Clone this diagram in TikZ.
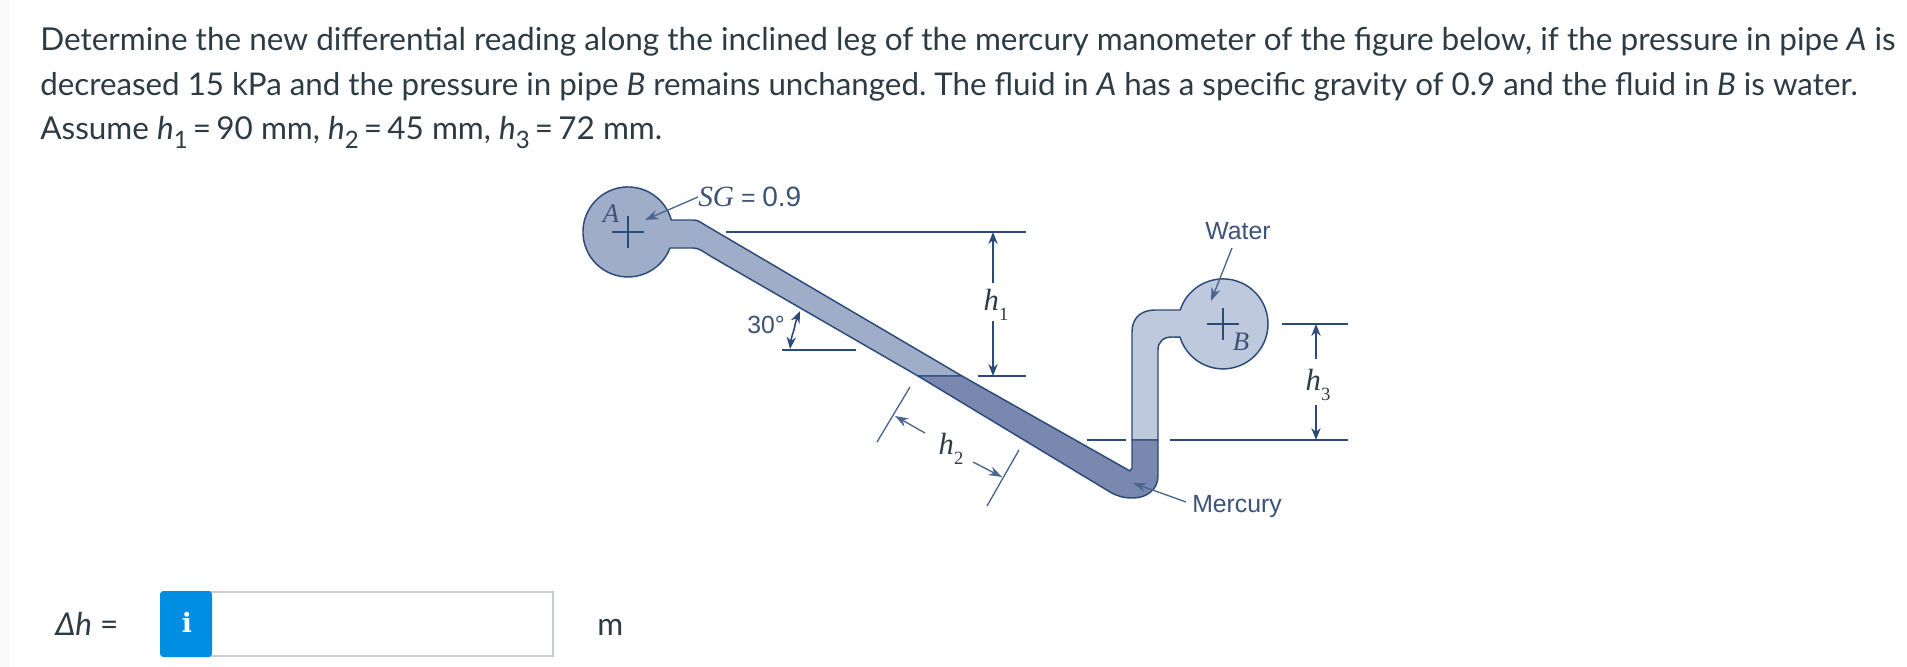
\documentclass[tikz,border=0pt]{standalone}
\usepackage{fontspec}
\usepackage{graphicx}
\setmainfont{Lato}
\newfontfamily\figsans{Liberation Sans}
\newfontfamily\figserif{Liberation Serif}
\newfontfamily\iconfont{DejaVu Serif}
\usetikzlibrary{arrows.meta}
\definecolor{ink}{HTML}{2D3B45}
\definecolor{line}{HTML}{2A4A7A}
\definecolor{fluidA}{HTML}{A0ADC9}
\definecolor{fluidB}{HTML}{BFC9DE}
\definecolor{merc}{HTML}{7888AF}
\definecolor{figtext}{HTML}{3C5279}
\definecolor{info}{HTML}{008EE2}
\definecolor{boxedge}{HTML}{C7CDD1}
\frenchspacing
\newcommand{\sbs}[1]{\raisebox{-0.3em}{\fontsize{18}{18}\selectfont #1}}
\newcommand{\hsub}[1]{{\itshape h}\sbs{#1}}
\newcommand{\eqs}{\hspace{0.165em}=\hspace{0.165em}}
\newcommand{\fh}[1]{{\figserif\itshape h}\raisebox{-0.33em}{\fontsize{14}{14}\figserif\selectfont #1}}
\tikzset{
  body/.style={anchor=base west,inner sep=0pt,text=ink,font=\fontsize{23.64}{27}\selectfont},
  bodytwo/.style={body,font=\fontsize{23.48}{27}\selectfont},
  tube/.style={draw=line,line width=1.1pt,line join=round},
  dim/.style={draw=line,line width=1.3pt},
  dimarrow/.style={draw=line,line width=1.2pt,-{Stealth[length=9pt,width=7pt]}},
  thinarrow/.style={draw=line!85!white,line width=1pt,-{Stealth[length=10pt,width=7pt]}},
  figlabel/.style={inner sep=0pt,text=figtext,font=\figsans\fontsize{18.6}{20}\selectfont},
  hlabel/.style={inner sep=0pt,text=ink,font=\fontsize{23}{24}\selectfont},
  letter/.style={inner sep=0pt,text=figtext,font=\figserif\itshape\fontsize{20}{20}\selectfont}
}
\begin{document}
\begin{tikzpicture}[x=0.75pt,y=0.75pt,yscale=-1]
\path[use as bounding box] (0,0) rectangle (1907,667);
\fill[white] (0,0) rectangle (1907,667);
\fill[black!2] (0,0) rectangle (9,667);

% problem text
\node[body] (l1) at (40,50.5) {Determine the new differential reading along the inclined leg of the mercury manometer of the figure below, if the pressure in pipe {\itshape A} is};
\node[bodytwo] (l2) at (40,95) {decreased 15 kPa and the pressure in pipe {\itshape B} remains unchanged. The fluid in {\itshape A} has a specific gravity of 0.9 and the fluid in {\itshape B} is water.};
\node[body] (l3) at (40,139) {Assume \hsub{1}\eqs 90 mm, \hsub{2}\eqs 45 mm, \hsub{3}\eqs 72 mm.};

% fluid A side
\path[tube,fill=fluidA] (671.4,220) -- (693,220) .. controls (698,220) and (700,222) .. (705,225)
  -- (962,376) -- (918,376) -- (712,257) .. controls (702,251) and (699,248) .. (693,248)
  -- (670,248) arc[start angle=20.9,end angle=344.5,radius=45] -- cycle;
% fluid B side
\path[tube,fill=fluidB] (1132,440) -- (1132,332) .. controls (1132,318) and (1141,310) .. (1155,310)
  -- (1180.2,310) arc[start angle=198,end angle=523,radius=45]
  -- (1172,337) .. controls (1163,337) and (1158,342) .. (1158,350) -- (1158,440) -- cycle;
% mercury
\path[tube,fill=merc] (918,376) -- (962,376) -- (1130,471) -- (1132,468) -- (1132,440) -- (1158,440)
  -- (1158,476) .. controls (1158,490) and (1146,498) .. (1133,498)
  .. controls (1123,498) and (1117,496) .. (1110,492) -- cycle;

% centre crosses
\node[inner sep=0pt] (pipeA) at (628,232) {};
\node[inner sep=0pt] (pipeB) at (1223,324) {};
\draw[dim] (612,232) -- (644,232) (628,216) -- (628,248);
\draw[dim] (1207,324) -- (1239,324) (1223,308) -- (1223,340);
\node[letter] (lblA) at (611,214) {A};
\node[letter] (lblB) at (1241,342) {B};

% h1
\coordinate (h1t) at (993,232);
\coordinate (h1b) at (993,376);
\draw[dim] (726,232) -- (1026,232);
\draw[dim] (978,376) -- (1026,376);
\node[hlabel] (h1) at (996,305) {\fh{1}};
\draw[dimarrow] (993,283) -- (h1t);
\draw[dimarrow] (993,321) -- (h1b);

% h3
\coordinate (h3t) at (1316,324);
\coordinate (h3b) at (1316,440);
\draw[dim] (1282,324) -- (1348,324);
\draw[dim] (1087,440) -- (1126,440);
\draw[dim] (1170,440) -- (1348,440);
\node[hlabel] (h3) at (1318,385) {\fh{3}};
\draw[dimarrow] (1316,359) -- (h3t);
\draw[dimarrow] (1316,405) -- (h3b);

% h2
\coordinate (t1a) at (910,387);
\coordinate (t1b) at (877,442);
\coordinate (t2a) at (1019,450);
\coordinate (t2b) at (987,506);
\coordinate (a1) at (895,416);
\coordinate (a2) at (1002,477);
\draw[line width=1pt,draw=line!85!white] (t1a) -- (t1b);
\draw[line width=1pt,draw=line!85!white] (t2a) -- (t2b);
\node[hlabel] (h2) at (951,449) {\fh{2}};
\draw[thinarrow] (925,433) -- (a1);
\draw[thinarrow] (973,462) -- (a2);

% 30 degrees
\draw[dim] (782,350) -- (856,350);
\node[figlabel] (ang) at (766,325) {30°};
\coordinate (angmid) at (794,330);
\draw[dimarrow] (angmid) .. controls (792,335) and (791,340) .. (790,349);
\draw[dimarrow] (angmid) .. controls (795,324) and (797,318) .. (800,311);

% leaders
\node[figlabel,anchor=west] (sg) at (698,197) {{\figserif\itshape\fontsize{22}{22}\selectfont SG} = {\fontsize{21}{21}\selectfont 0.9}};
\draw[thinarrow] (sg.west) -- (645,220);
\node[figlabel] (water) at (1238,231) {Water};
\draw[thinarrow] (1232,248) -- (1211,301);
\node[figlabel,anchor=west] (mercury) at (1192,507) {Mercury};
\draw[thinarrow] (mercury.west) ++(-6,-5) -- (1133,483);

% answer row
\node[body,anchor=base west] (dh) at (55,635) {{\itshape Δh} =};
\path[fill=white,draw=boxedge,line width=1.2pt] (208,592) rectangle (553,656);
\path[fill=info,rounded corners=2.5pt] (160,591) -- (212,591) -- (212,657) -- (160,657) -- cycle;
\node[inner sep=0pt,text=white,font=\iconfont\bfseries\fontsize{20}{20}\selectfont] (icon) at (187,622) {i};
\node[body] (unit) at (597,635) {m};
\end{tikzpicture}
\end{document}
